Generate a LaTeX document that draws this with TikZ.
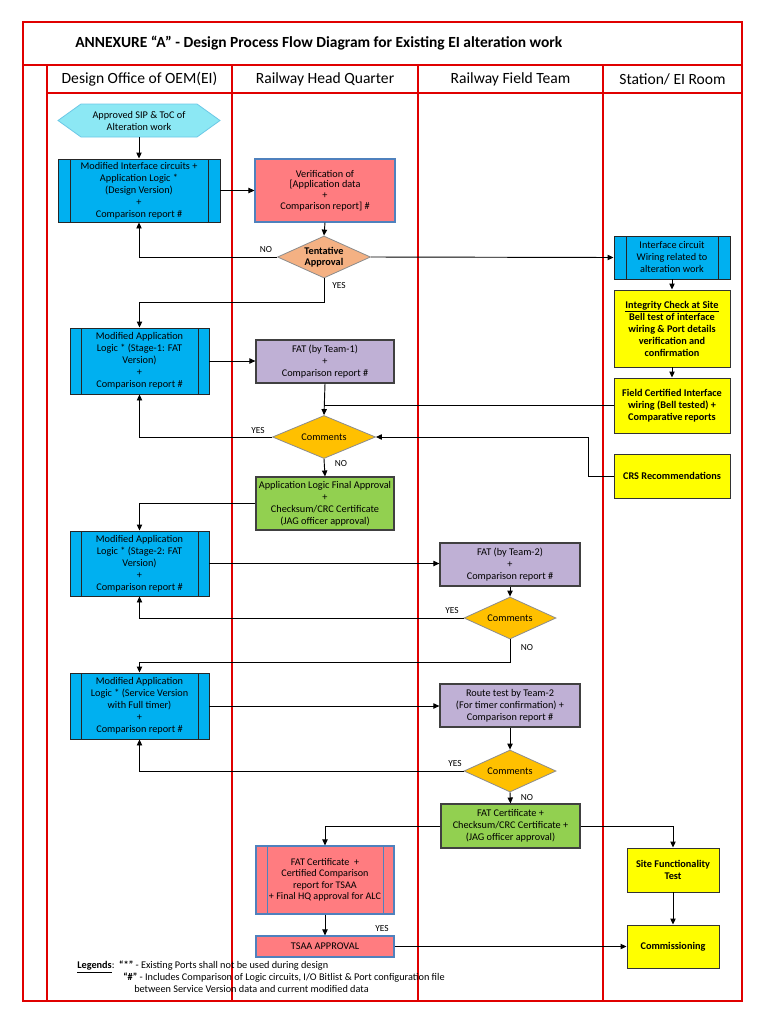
\documentclass[tikz,border=0pt]{standalone}
\usepackage{fontspec}
\setmainfont{Carlito}
\usetikzlibrary{arrows.meta,shapes.geometric}
\definecolor{lanered}{HTML}{E00000}
\definecolor{hexfill}{HTML}{8CE8F4}
\definecolor{hexdraw}{HTML}{6CC8E6}
\definecolor{oemblue}{HTML}{00B0F0}
\definecolor{pinkc}{HTML}{FF7C80}
\definecolor{pinkd}{HTML}{4F81BD}
\definecolor{orangec}{HTML}{F4B183}
\definecolor{lavc}{HTML}{BFB0D5}
\definecolor{goldc}{HTML}{FFC000}
\definecolor{grnc}{HTML}{92D050}
\definecolor{yelc}{HTML}{FFFF00}
\newcommand{\boxfont}{\fontsize{7.7}{9}\selectfont}
\begin{document}
\begin{tikzpicture}[x=0.75pt,y=-0.75pt,
  lane/.style={draw=lanered, line width=0.8pt},
  hdr/.style={font=\fontsize{11.7}{13}\selectfont, inner sep=0pt},
  ttl/.style={font=\fontsize{11.6}{13}\selectfont\bfseries, inner sep=0pt},
  box/.style={draw, line width=0.6pt, align=center, inner sep=1pt, font=\boxfont},
  predef/.style={path picture={\draw[line width=0.7pt, black!85] ([xshift=#1]path picture bounding box.north west) -- ([xshift=#1]path picture bounding box.south west) ([xshift=-#1]path picture bounding box.north east) -- ([xshift=-#1]path picture bounding box.south east);}},
  predefb/.style={path picture={\draw[line width=0.7pt, pinkd] ([xshift=#1]path picture bounding box.north west) -- ([xshift=#1]path picture bounding box.south west) ([xshift=-#1]path picture bounding box.north east) -- ([xshift=-#1]path picture bounding box.south east);}},
  bluebox/.style={box, fill=oemblue, draw=black!85, line width=0.7pt},
  pinkbox/.style={box, fill=pinkc, draw=pinkd, line width=0.8pt},
  lavbox/.style={box, fill=lavc, draw=black!75, line width=0.9pt},
  grnbox/.style={box, fill=grnc, draw=black!75, line width=0.8pt},
  yelbox/.style={box, fill=yelc, draw=black!80, line width=0.7pt, font=\boxfont\bfseries},
  dia/.style={diamond, draw=black!45, line width=0.6pt, fill=goldc, inner sep=0pt, aspect=2.2, align=center, font=\boxfont},
  lbl/.style={font=\fontsize{7}{8}\selectfont, inner sep=0pt},
  leg/.style={font=\boxfont, inner sep=0pt, anchor=west},
  conn/.style={draw, line width=0.7pt, -{Triangle[length=4.5pt,width=4pt]}},
  plain/.style={draw, line width=0.7pt}
]
\useasboundingbox (0,0) rectangle (768,1024);
\fill[white] (0,0) rectangle (768,1024);

% frame and lanes
\draw[lane] (23,22) rectangle (742,1001);
\draw[lane] (23,65) -- (742,65);
\draw[lane] (47,93) -- (742,93);
\foreach \x in {47,232,418,603} \draw[lane] (\x,65) -- (\x,1001);

\node[ttl, anchor=west] (title) at (75,43) {ANNEXURE “A” - Design Process Flow Diagram for Existing EI alteration work};
\node[hdr] (h1) at (139.5,79) {Design Office of OEM(EI)};
\node[hdr] (h2) at (325,79) {Railway Head Quarter};
\node[hdr] (h3) at (510.5,79) {Railway Field Team};
\node[hdr] (h4) at (672.5,79) {Station/ EI Room};

% hexagon start
\filldraw[fill=hexfill, draw=hexdraw, line width=0.6pt] (58,120.5) -- (81,104) -- (197,104) -- (220,120.5) -- (197,137) -- (81,137) -- cycle;
\node[box, draw=none, minimum width=121.5pt, minimum height=24.75pt] (hex) at (139,120.5) {Approved SIP \& ToC of\\Alteration work};

% OEM column
\node[bluebox, predef=9pt, minimum width=121.5pt, minimum height=47.25pt] (b1) at (139,190.5) {Modified Interface circuits +\\Application Logic *\\(Design Version)\\+\\Comparison report \#};
\node[bluebox, predef=8.25pt, minimum width=104.25pt, minimum height=49.5pt] (s1) at (139.5,361) {Modified Application\\Logic * (Stage-1: FAT\\Version)\\+\\Comparison report \#};
\node[bluebox, predef=8.25pt, minimum width=104.25pt, minimum height=48.75pt] (s2) at (139.5,563.5) {Modified Application\\Logic * (Stage-2: FAT\\Version)\\+\\Comparison report \#};
\node[bluebox, predef=8.25pt, minimum width=104.25pt, minimum height=49.5pt] (s3) at (139.5,706) {Modified Application\\Logic * (Service Version\\with Full timer)\\+\\Comparison report \#};

% HQ column
\node[pinkbox, minimum width=105pt, minimum height=47.25pt, font=\fontsize{7.7}{8}\selectfont] (verif) at (325,190.5) {Verification of\\{[}Application data\\+\\Comparison report{]} \#};
\node[dia, fill=orangec, minimum width=69.75pt, minimum height=31.5pt, font=\fontsize{7.7}{8.6}\selectfont\bfseries] (tent) at (324,257) {Tentative\\Approval};
\node[lavbox, minimum width=103.5pt, minimum height=32.25pt] (fat1) at (325,361.5) {FAT (by Team-1)\\+\\Comparison report \#};
\node[dia, minimum width=77.25pt, minimum height=32.25pt] (com1) at (324,437) {Comments};
\node[grnbox, minimum width=103.5pt, minimum height=39.75pt] (green1) at (325,503.5) {Application Logic Final Approval\\+\\Checksum/CRC Certificate\\(JAG officer approval)};
\node[pinkbox, predefb=8.25pt, minimum width=103.5pt, minimum height=51pt, font=\fontsize{7.6}{8.6}\selectfont] (fatcert) at (325,880) {FAT Certificate\ \ +\\Certified Comparison\\report for TSAA\\+ Final HQ approval for ALC};
\node[pinkbox, minimum width=103.5pt, minimum height=15.75pt] (tsaa) at (325,946.5) {TSAA APPROVAL};

% Field team column
\node[lavbox, minimum width=105pt, minimum height=32.25pt] (fat2) at (510,564.5) {FAT (by Team-2)\\+\\Comparison report \#};
\node[dia, minimum width=69pt, minimum height=31.5pt] (com2) at (510,618) {Comments};
\node[lavbox, minimum width=105pt, minimum height=32.25pt] (route) at (510,705.5) {Route test by Team-2\\(For timer confirmation) +\\Comparison report \#};
\node[dia, minimum width=69pt, minimum height=31.5pt] (com3) at (510,771) {Comments};
\node[grnbox, minimum width=104.25pt, minimum height=33pt] (green2) at (510.5,826) {FAT Certificate +\\Checksum/CRC Certificate +\\(JAG officer approval)};

% Station column
\node[bluebox, predef=9pt, minimum width=87pt, minimum height=32.25pt] (iface) at (672,257.5) {Interface circuit\\Wiring related to\\alteration work};
\node[yelbox, minimum width=87pt, minimum height=57.75pt] (integ) at (672,328.5) {\underline{Integrity Check at Site}\\Bell test of interface\\wiring \& Port details\\verification and\\confirmation};
\node[yelbox, minimum width=87pt, minimum height=41.25pt] (field) at (672,405.5) {Field Certified Interface\\wiring (Bell tested) +\\Comparative reports};
\node[yelbox, minimum width=87pt, minimum height=33pt] (crs) at (672,476) {CRS Recommendations};
\node[yelbox, minimum width=69pt, minimum height=33pt] (site) at (673,870) {Site Functionality\\Test};
\node[yelbox, minimum width=69pt, minimum height=32.25pt] (comm) at (673,946.5) {Commissioning};

% connectors
\draw[conn] (hex.south) -- (b1.north);
\draw[conn] (b1.east) -- (verif.west);
\draw[conn] (verif.south) -- (tent.north);
\draw[conn] (tent.west) -| (b1.south);
\draw[conn] (tent.east) -- (iface.west);
\draw[conn] (tent.south) -- ++(0,24) -| (s1.north);
\draw[conn] (iface.south) -- (integ.north);
\draw[conn] (integ.south) -- (field.north);
\draw[conn] (s1.east) -- (s1.east -| fat1.west);
\draw[conn] (fat1.south) -- (com1.north);
\draw[plain] (field.west) -- (field.west -| com1.north);
\draw[conn] (com1.west) -| (s1.south);
\draw[conn] (crs.west) -- ++(-25,0) |- (com1.east);
\draw[conn] (com1.south) -- (green1.north);
\draw[conn] (green1.west) -| (s2.north);
\draw[conn] (s2.east) -- (s2.east -| fat2.west);
\draw[conn] (fat2.south) -- (com2.north);
\draw[conn] (com2.west) -| (s2.south);
\draw[conn] (com2.south) -- ++(0,23) -| (s3.north);
\draw[conn] (s3.east) -- (s3.east -| route.west);
\draw[conn] (route.south) -- (com3.north);
\draw[conn] (com3.west) -| (s3.south);
\draw[conn] (com3.south) -- (green2.north);
\draw[conn] (green2.west) -| (fatcert.north);
\draw[conn] (green2.east) -| (site.north);
\draw[conn] (fatcert.south) -- (tsaa.north);
\draw[conn] (tsaa.east) -- (tsaa.east -| comm.west);
\draw[conn] (site.south) -- (comm.north);

% labels
\node[lbl] (l1) at (266,250) {NO};
\node[lbl] (l2) at (339,286) {YES};
\node[lbl] (l3) at (258,430) {YES};
\node[lbl] (l4) at (341,463) {NO};
\node[lbl] (l5) at (452,610) {YES};
\node[lbl] (l6) at (527,647) {NO};
\node[lbl] (l7) at (455,763) {YES};
\node[lbl] (l8) at (527,797) {NO};
\node[lbl] (l9) at (382,928) {YES};

% legends
\node[leg] (lg1) at (77,967) {\underline{\textbf{Legends}}:\ \ \textbf{“*”} - Existing Ports shall not be used during design};
\node[leg] (lg2) at (123,978) {\textbf{“\#”} - Includes Comparison of Logic circuits, I/O Bitlist \& Port configuration file};
\node[leg] (lg3) at (134,989) {between Service Version data and current modified data};
\end{tikzpicture}
\end{document}
